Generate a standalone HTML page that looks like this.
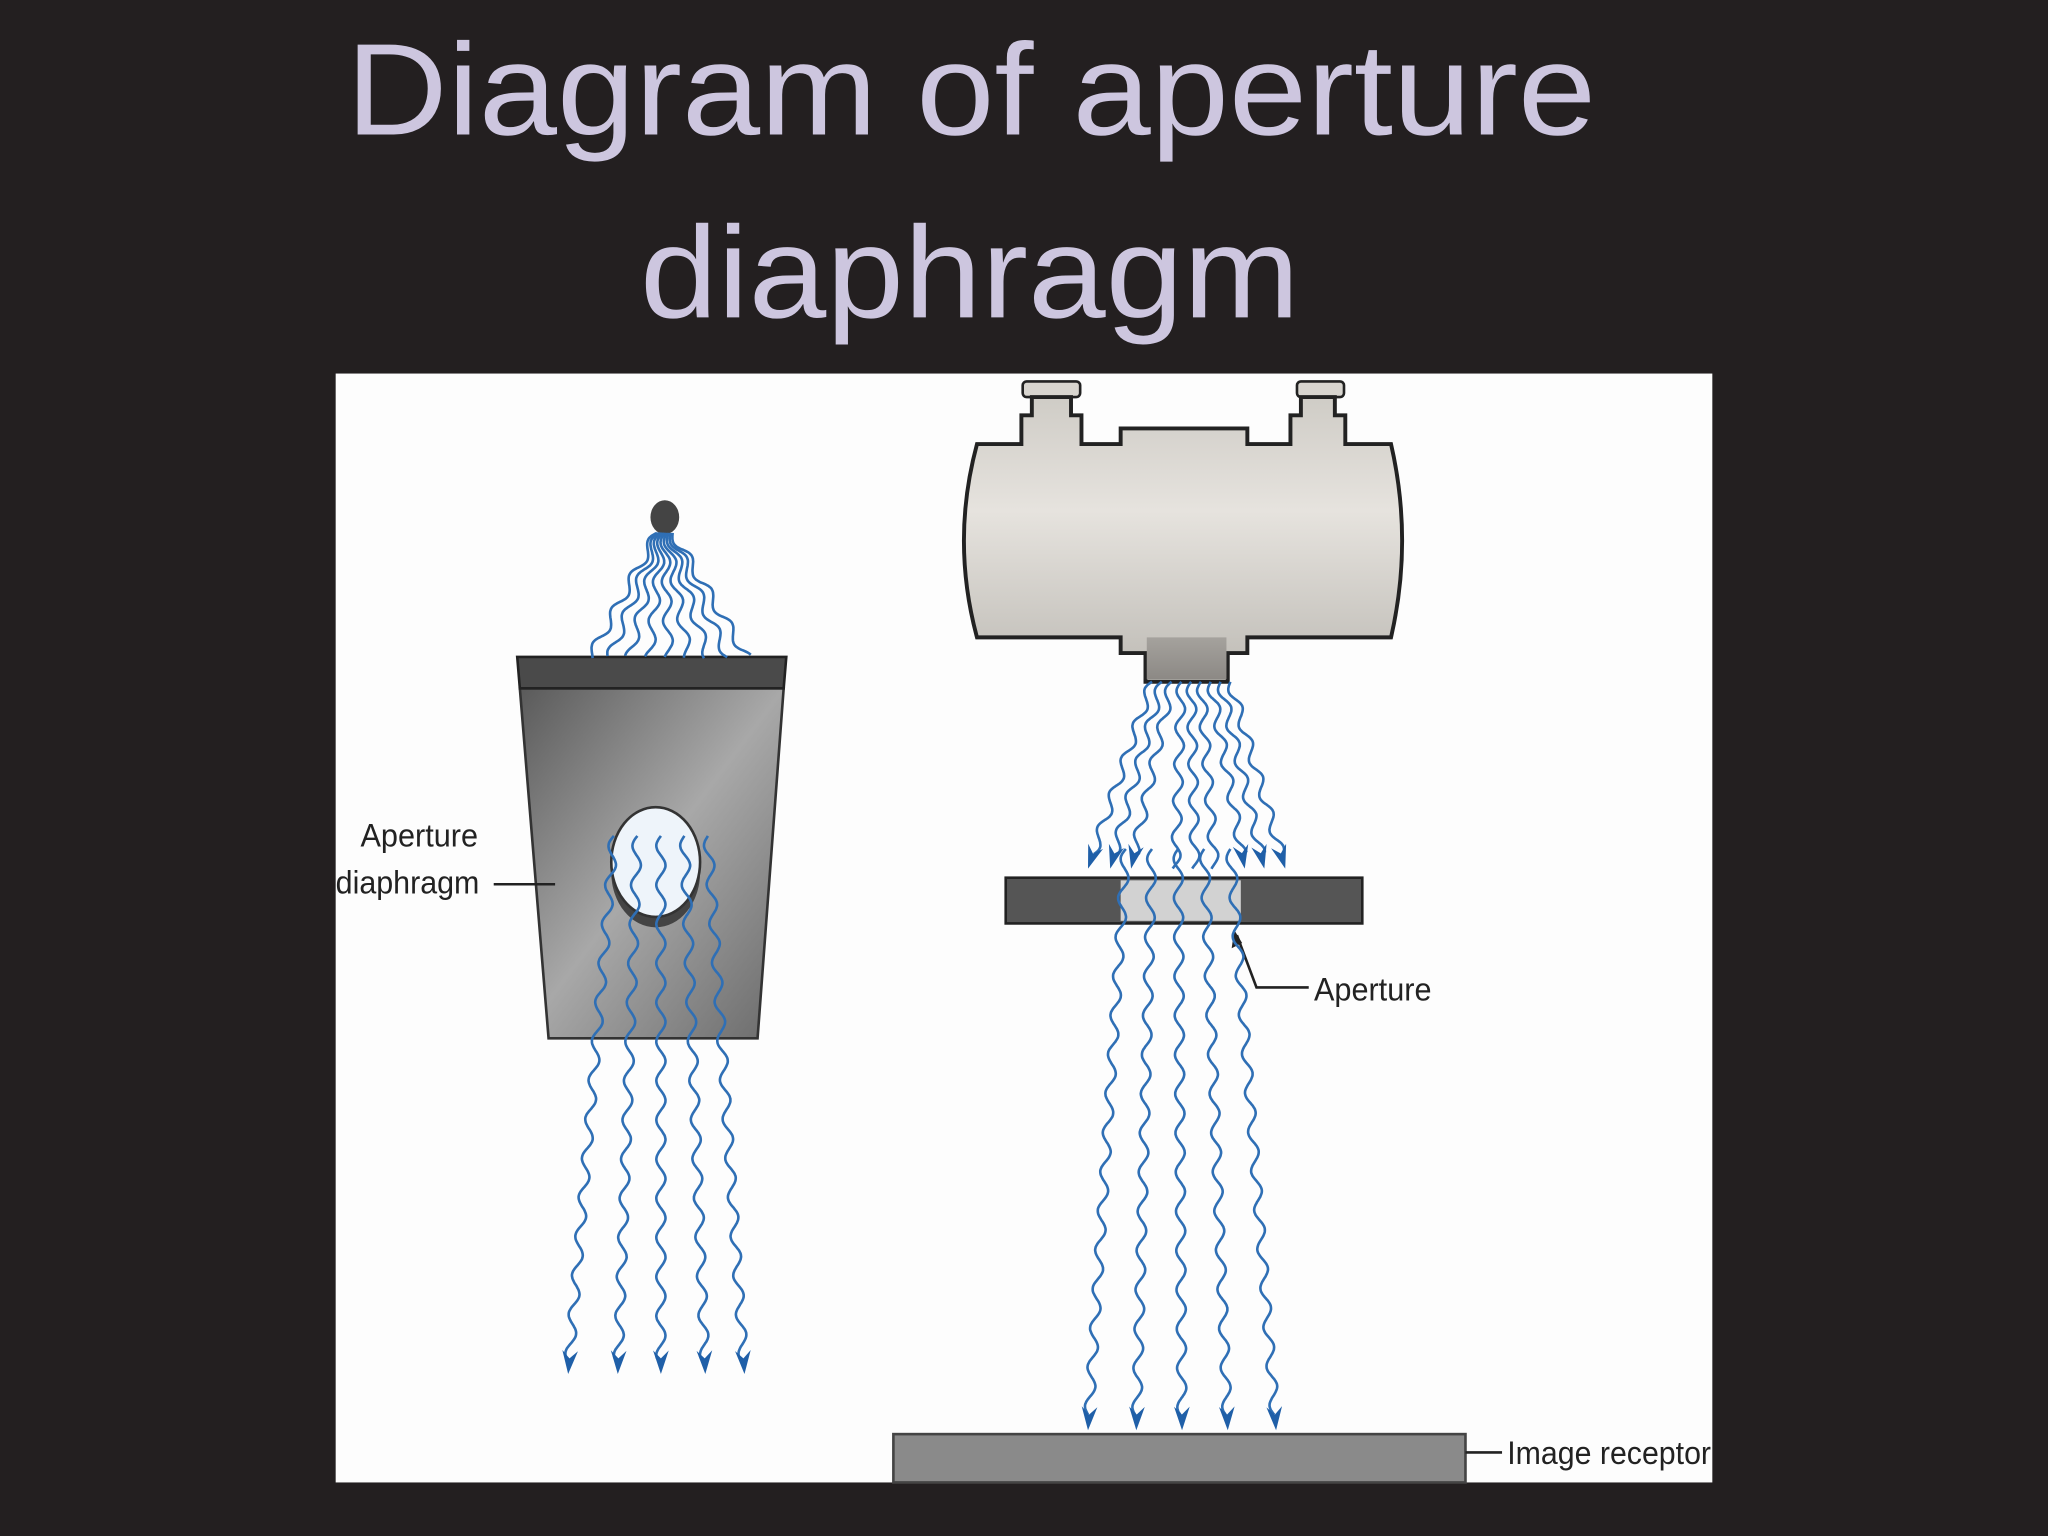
<!DOCTYPE html>
<html><head><meta charset="utf-8"><style>
html,body{margin:0;padding:0;background:#231f20;}
svg{display:block}
</style></head><body>
<svg id="s" width="2048" height="1536" viewBox="0 0 1568 1176" preserveAspectRatio="none" xmlns="http://www.w3.org/2000/svg">
<defs>
<linearGradient id="blk" x1="0" y1="0" x2="1" y2="1"><stop offset="0" stop-color="#5a5a5a"/><stop offset="0.5" stop-color="#a8a8a8"/><stop offset="1" stop-color="#6a6a6a"/></linearGradient>
<linearGradient id="tube" x1="0" y1="0" x2="0" y2="1"><stop offset="0" stop-color="#cfccc6"/><stop offset="0.4" stop-color="#e6e3de"/><stop offset="1" stop-color="#bdbab4"/></linearGradient>
<linearGradient id="neck" x1="0" y1="0" x2="0" y2="1"><stop offset="0" stop-color="#a5a29d"/><stop offset="1" stop-color="#8c8985"/></linearGradient>
</defs>
<rect width="1568" height="1176" fill="#231f20"/>
<g font-family="Liberation Sans, sans-serif" fill="#cdc6df" font-size="100">
<text x="265" y="103" textLength="957" lengthAdjust="spacingAndGlyphs">Diagram of aperture</text>
<text x="490" y="243" textLength="505" lengthAdjust="spacingAndGlyphs">diaphragm</text>
</g>
<rect x="257" y="286" width="1054" height="849" fill="#fdfdfd"/>
<polygon points="398,527 600,527 580,795 420,795" fill="url(#blk)" stroke="#333" stroke-width="2"/>
<polygon points="396,503 602,503 600,527 398,527" fill="#4a4a4a" stroke="#222" stroke-width="2"/>
<ellipse cx="502" cy="668" rx="34" ry="42" fill="#444"/>
<ellipse cx="502" cy="660" rx="34" ry="42" fill="#eef4fa" stroke="#333" stroke-width="2"/>
<ellipse cx="509" cy="396" rx="11" ry="13" fill="#444"/>
<g font-family="Liberation Sans, sans-serif" font-size="25" fill="#222" text-anchor="middle">
<text x="321" y="648" textLength="90" lengthAdjust="spacingAndGlyphs">Aperture</text>
<text x="312" y="684" textLength="110" lengthAdjust="spacingAndGlyphs">diaphragm</text>
<text x="1051" y="766" textLength="90" lengthAdjust="spacingAndGlyphs">Aperture</text>
<text x="1232" y="1121" textLength="156" lengthAdjust="spacingAndGlyphs">Image receptor</text>
</g>
<line x1="378" y1="677" x2="425" y2="677" stroke="#222" stroke-width="2"/>
<rect x="783" y="292" width="44" height="12" rx="3" fill="#d8d5cf" stroke="#222" stroke-width="2"/>
<rect x="993" y="292" width="36" height="12" rx="3" fill="#d8d5cf" stroke="#222" stroke-width="2"/>
<path d="M790,304 H820 V318 H828 V340 H858 V328 H955 V340 H988 V318 H996 V304 H1022 V318 H1030 V340 H1065 Q1082,414 1065,488 H955 V500 H940 V522 H877 V500 H858 V488 H748 Q728,414 748,340 H782 V318 H790 Z" fill="url(#tube)" stroke="#222" stroke-width="3"/>
<rect x="878" y="488" width="61" height="32" fill="url(#neck)"/>
<rect x="770" y="672" width="273" height="35" fill="#555" stroke="#222" stroke-width="2"/>
<rect x="858" y="674" width="92" height="31" fill="#d2d2d2"/>
<rect x="684" y="1098" width="438" height="37" fill="#8a8a8a" stroke="#444" stroke-width="2"/>
<line x1="1122" y1="1112" x2="1150" y2="1112" stroke="#222" stroke-width="2"/>
<path d="M947,716 L962,756 L1002,756" fill="none" stroke="#222" stroke-width="2"/>
<polygon points="945,712 943,726 951,722" fill="#222"/>
<g id="rays" fill="none" stroke="#2f6fb5" stroke-width="2" stroke-linejoin="round"></g>
<g id="heads" fill="#1f5fa8"></g>
</svg>
<script>
var R=document.getElementById('rays'),H=document.getElementById('heads'),NS='http://www.w3.org/2000/svg';
function wave(x1,y1,x2,y2,amp,per,arrow){
 var dx=x2-x1,dy=y2-y1,L=Math.hypot(dx,dy),ux=dx/L,uy=dy/L,nx=-uy,ny=ux,d='M'+x1+','+y1,n=Math.ceil(L),end=arrow?L-12:L;
 for(var i=1;i<=n;i++){var t=i/n*end,o=amp*Math.sin(t/per*2*Math.PI);d+=' L'+(x1+ux*t+nx*o).toFixed(1)+','+(y1+uy*t+ny*o).toFixed(1);}
 var p=document.createElementNS(NS,'path');p.setAttribute('d',d);R.appendChild(p);
 if(arrow){var a=document.createElementNS(NS,'polygon'),bx=x2-ux*18,by=y2-uy*18,mx=x2-ux*12,my=y2-uy*12;
  a.setAttribute('points',x2+','+y2+' '+(bx+nx*6)+','+(by+ny*6)+' '+mx+','+my+' '+(bx-nx*6)+','+(by-ny*6));H.appendChild(a);}
}
for(var i=0;i<9;i++){wave(503+i*1.5,408,452+i*15,503,3.5,30,false);}
var s=[470,488,506,524,542],e=[435,473,506,540,570];
for(i=0;i<5;i++)wave(s[i],640,e[i],1052,3.5,30,true);
var te=[833,850,866,900,915,930,953,968,984];
for(i=0;i<9;i++){wave(882+i*7.5,522,te[i],665,3.5,28,(i<3||i>5));}
var a0=[862,882,902,922,942],a1=[833,870,905,940,977];
for(i=0;i<5;i++)wave(a0[i],650,a1[i],1095,3.5,30,true);
</script>
</body></html>
